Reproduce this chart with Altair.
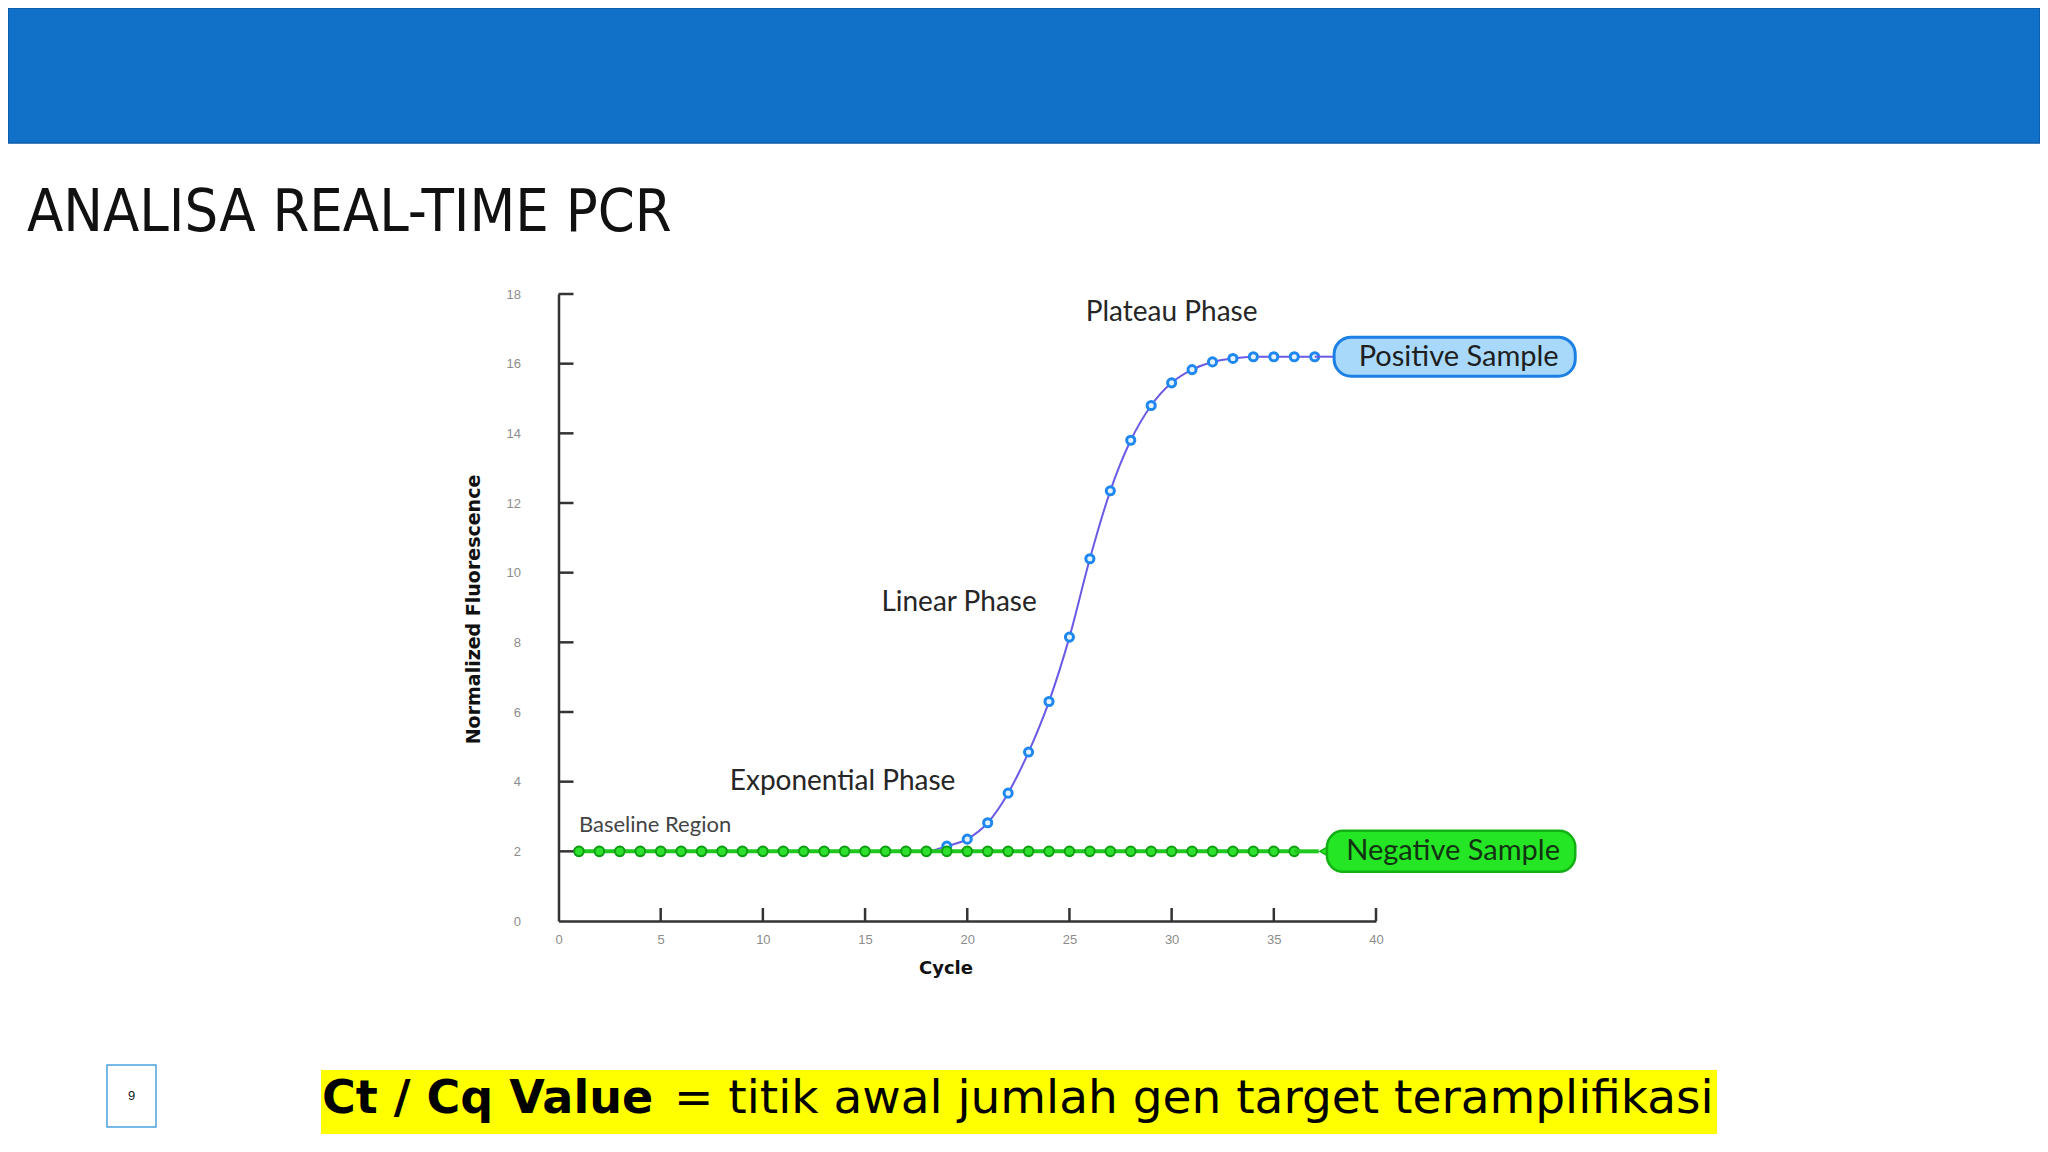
import altair as alt
import pandas as pd

# ---------------- data ----------------
cycles_pos = list(range(1, 38))
fluor_pos = [2.0, 2.0, 2.0, 2.0, 2.0, 2.0, 2.0, 2.0, 2.0, 2.0,
             2.0, 2.0, 2.0, 2.0, 2.0, 2.0, 2.0, 2.0, 2.15, 2.35,
             2.82, 3.67, 4.85, 6.3, 8.15, 10.4, 12.35, 13.8, 14.8, 15.45,
             15.83, 16.05, 16.15, 16.2, 16.2, 16.2, 16.2]
cycles_neg = list(range(1, 37))
fluor_neg = [2.0, 2.0, 2.0, 2.0, 2.0, 2.0, 2.0, 2.0, 2.0, 2.0,
             2.0, 2.0, 2.0, 2.0, 2.0, 2.0, 2.0, 2.0, 2.0, 2.0,
             2.0, 2.0, 2.0, 2.0, 2.0, 2.0, 2.0, 2.0, 2.0, 2.0,
             2.0, 2.0, 2.0, 2.0, 2.0, 2.0]

x_axis_labels = [0, 5, 10, 15, 20, 25, 30, 35, 40]
y_axis_labels = [0, 2, 4, 6, 8, 10, 12, 14, 16, 18]
x_inner_ticks = [5, 10, 15, 20, 25, 30, 35, 40]
y_inner_ticks = [2, 4, 6, 8, 10, 12, 14, 16, 18]

phase_labels = ["Plateau Phase", "Linear Phase", "Exponential Phase"]
phase_x = [30.0, 19.6, 13.9]
phase_y = [17.45, 9.13, 3.99]
baseline_label = ["Baseline Region"]
baseline_x = [1.0]
baseline_y = [2.76]

sample_labels = ["Positive Sample", "Negative Sample"]
label_tip = [37.95, 37.2]
label_box_start = [37.95, 37.6]
label_box_end = [49.75, 49.75]

slide_title = ["ANALISA REAL-TIME PCR"]
page_number = ["9"]
footer_bold = ["Ct / Cq Value"]
footer_rest = ["= titik awal jumlah gen target teramplifikasi"]

# ---------------- layout ----------------
W, H = 817.5, 627
PAD_L, PAD_T = 550.5, 286
PAD_R = 2032 - PAD_L - W
PAD_B = 1136 - PAD_T - H

xscale = alt.Scale(domain=[0, 40], nice=False, zero=False)
yscale = alt.Scale(domain=[0, 18], nice=False, zero=False)

CAL = "Lato, Carlito, 'Open Sans', sans-serif"

pos_df = pd.DataFrame({"cycle": cycles_pos, "fluor": fluor_pos})
neg_df = pd.DataFrame({"cycle": cycles_neg, "fluor": fluor_neg})

xaxis = alt.Axis(values=x_axis_labels, title="Cycle", ticks=False, tickSize=0,
                 domainColor="#333333", domainWidth=2.5, grid=False,
                 labelColor="#8c8c8c", labelFontSize=13, labelFont="Liberation Sans",
                 labelPadding=12, labelFlush=False, labelOverlap=False,
                 titleFont="DejaVu Sans", titleFontWeight="bold", titleFontSize=18,
                 titleColor="#111111", titleX=387, titleY=52, titleBaseline="alphabetic",
                 titleAlign="center")
yaxis = alt.Axis(values=y_axis_labels, title="Normalized Fluorescence", ticks=False, tickSize=0,
                 domainColor="#333333", domainWidth=2.5, grid=False,
                 labelColor="#8c8c8c", labelFontSize=13, labelFont="Liberation Sans",
                 labelPadding=38, labelFlush=False, labelOverlap=False,
                 titleFont="DejaVu Sans", titleFontWeight="bold", titleFontSize=19,
                 titleColor="#111111", titleX=-85.5, titleY=315, titleAngle=270,
                 titleBaseline="middle", titleAlign="center")


def X(field):
    return alt.X(field, scale=xscale, axis=xaxis)


def Y(field):
    return alt.Y(field, scale=yscale, axis=yaxis)


# positive line (under the negative one)
pos_line = alt.Chart(pos_df).mark_line(color="#6a5ae6", strokeWidth=2, interpolate="monotone").encode(
    x=X("cycle:Q"), y=Y("fluor:Q"),
)
pos_pts = alt.Chart(pos_df).mark_point(shape="circle", filled=True, fill="#e4f2ff", stroke="#1e88f0",
                                       strokeWidth=3, size=66, opacity=1).encode(
    x=X("cycle:Q"), y=Y("fluor:Q"),
)

neg_line = alt.Chart(neg_df).mark_line(color="#1ec81e", strokeWidth=4).encode(
    x=X("cycle:Q"), y=Y("fluor:Q"),
)
neg_pts = alt.Chart(neg_df).mark_point(shape="circle", filled=True, fill="#2ee02e", stroke="#0f9f0f",
                                       strokeWidth=2, size=92, opacity=1).encode(
    x=X("cycle:Q"), y=Y("fluor:Q"),
)

# connectors from last point to label boxes
conn_df = pd.DataFrame({
    "cycle": [cycles_pos[-1], cycles_neg[-1]],
    "x1": label_tip,
    "fluor": [fluor_pos[-1], fluor_neg[-1]],
    "c": ["#6a5ae6", "#1ec81e"],
    "w": [2, 4],
})
connectors = alt.Chart(conn_df).mark_rule().encode(
    x=X("cycle:Q"), x2="x1:Q", y=Y("fluor:Q"),
    color=alt.Color("c:N", scale=None),
    strokeWidth=alt.StrokeWidth("w:Q", scale=None),
)

# inward axis ticks
xt_df = pd.DataFrame({"cycle": x_inner_ticks})
x_ticks = alt.Chart(xt_df).mark_rule(color="#333333", strokeWidth=2.5).encode(
    x=X("cycle:Q"), y=alt.value(H), y2=alt.value(H - 13),
)
yt_df = pd.DataFrame({"fluor": y_inner_ticks})
y_ticks = alt.Chart(yt_df).mark_rule(color="#333333", strokeWidth=2.5).encode(
    y=Y("fluor:Q"), x=alt.value(0), x2=alt.value(15),
)

# phase annotations
phase_df = pd.DataFrame({"label": phase_labels, "cycle": phase_x, "fluor": phase_y})
phases = alt.Chart(phase_df).mark_text(font=CAL, fontSize=28, color="#262626", align="center",
                                       baseline="middle").encode(
    x=X("cycle:Q"), y=Y("fluor:Q"), text="label:N",
)
base_df = pd.DataFrame({"label": baseline_label, "cycle": baseline_x, "fluor": baseline_y})
base_txt = alt.Chart(base_df).mark_text(font=CAL, fontSize=22, color="#444444", align="left",
                                        baseline="middle").encode(
    x=X("cycle:Q"), y=Y("fluor:Q"), text="label:N",
)

# sample labels
lab_df = pd.DataFrame({
    "label": sample_labels,
    "tip": label_tip,
    "cycle": label_box_start,
    "x1": label_box_end,
    "fluor": [fluor_pos[-1], fluor_neg[-1]],
})
lab_df["xm"] = (lab_df["cycle"] + lab_df["x1"]) / 2
pos_lab = lab_df.iloc[[0]]
neg_lab = lab_df.iloc[[1]]

pos_box = alt.Chart(pos_lab).mark_rect(fill="#a9d9fa", stroke="#1b7fe3", strokeWidth=3,
                                       cornerRadius=17, yOffset=-19.5, y2Offset=19.5).encode(
    x=X("cycle:Q"), x2="x1:Q", y=Y("fluor:Q"), y2="fluor:Q",
)
neg_tip = alt.Chart(neg_lab).mark_point(shape="triangle-left", filled=True, fill="#24e624",
                                        stroke="#12b012", strokeWidth=1.5, size=260, opacity=1,
                                        xOffset=8).encode(
    x=X("tip:Q"), y=Y("fluor:Q"),
)
neg_box = alt.Chart(neg_lab).mark_rect(fill="#24e624", stroke="#12b012", strokeWidth=2.5,
                                       cornerRadius=16, yOffset=-20.5, y2Offset=20.5).encode(
    x=X("cycle:Q"), x2="x1:Q", y=Y("fluor:Q"), y2="fluor:Q",
)
pos_txt = alt.Chart(pos_lab).mark_text(font=CAL, fontSize=29, color="#1e1e1e", align="center",
                                       baseline="middle", dx=4).encode(
    x=X("xm:Q"), y=Y("fluor:Q"), text="label:N",
)
neg_txt = alt.Chart(neg_lab).mark_text(font=CAL, fontSize=29, color="#123312", align="center",
                                       baseline="middle", dx=2).encode(
    x=X("xm:Q"), y=Y("fluor:Q"), text="label:N",
)

# ---------------- slide decorations ----------------
hdr_df = pd.DataFrame({"t": slide_title})
header = alt.Chart(hdr_df).mark_rect(fill="#1170c8", stroke="#0b5aa8", strokeWidth=1.5).encode(
    x=alt.value(-PAD_L), x2=alt.value(W + PAD_R),
    y=alt.value(-PAD_T), y2=alt.value(143 - 8 - PAD_T),
)
title = alt.Chart(hdr_df).mark_text(font="'Liberation Sans Narrow', 'DejaVu Sans Condensed', 'Liberation Sans', sans-serif",
                                    fontSize=59, color="#111111", align="left",
                                    baseline="alphabetic").encode(
    x=alt.value(27 - 8 - PAD_L), y=alt.value(231 - 8 - PAD_T), text="t:N",
)

pn_df = pd.DataFrame({"t": page_number})
pn_box = alt.Chart(pn_df).mark_rect(fill="#ffffff", stroke="#4aa3df", strokeWidth=1.5).encode(
    x=alt.value(107 - 8 - PAD_L), x2=alt.value(156 - 8 - PAD_L),
    y=alt.value(1065 - 8 - PAD_T), y2=alt.value(1127 - 8 - PAD_T),
)
pn_txt = alt.Chart(pn_df).mark_text(font="'Liberation Sans Narrow', 'Liberation Sans'", fontSize=13,
                                    color="#222222", align="center", baseline="middle").encode(
    x=alt.value(131.5 - 8 - PAD_L), y=alt.value(1096 - 8 - PAD_T), text="t:N",
)

ft_df = pd.DataFrame({"b": footer_bold, "r": footer_rest})
ft_bg = alt.Chart(ft_df).mark_rect(fill="#ffff00").encode(
    x=alt.value(321 - 8 - PAD_L), x2=alt.value(1717 - 8 - PAD_L),
    y=alt.value(1070 - 8 - PAD_T), y2=alt.value(1134 - 8 - PAD_T),
)
ft_bold = alt.Chart(ft_df).mark_text(font="DejaVu Sans", fontWeight="bold", fontSize=46,
                                     color="#000000", align="left", baseline="alphabetic").encode(
    x=alt.value(322 - 8 - PAD_L), y=alt.value(1113 - 8 - PAD_T), text="b:N",
)
ft_rest = alt.Chart(ft_df).mark_text(font="DejaVu Sans", fontSize=47,
                                     color="#000000", align="left", baseline="alphabetic").encode(
    x=alt.value(674 - 8 - PAD_L), y=alt.value(1113 - 8 - PAD_T), text="r:N",
)

chart = alt.layer(
    header, title, pn_box, pn_txt, ft_bg, ft_bold, ft_rest,
    pos_line, pos_pts, neg_line, neg_pts, connectors,
    x_ticks, y_ticks, phases, base_txt,
    pos_box, neg_tip, neg_box, pos_txt, neg_txt,
).properties(
    width=W, height=H,
    autosize=alt.AutoSizeParams(type="none"),
    padding={"left": PAD_L, "top": PAD_T, "right": PAD_R, "bottom": PAD_B},
    background="#ffffff",
).configure_view(stroke=None)

chart.save("out.html", embed_options={"renderer": "svg", "actions": False})
